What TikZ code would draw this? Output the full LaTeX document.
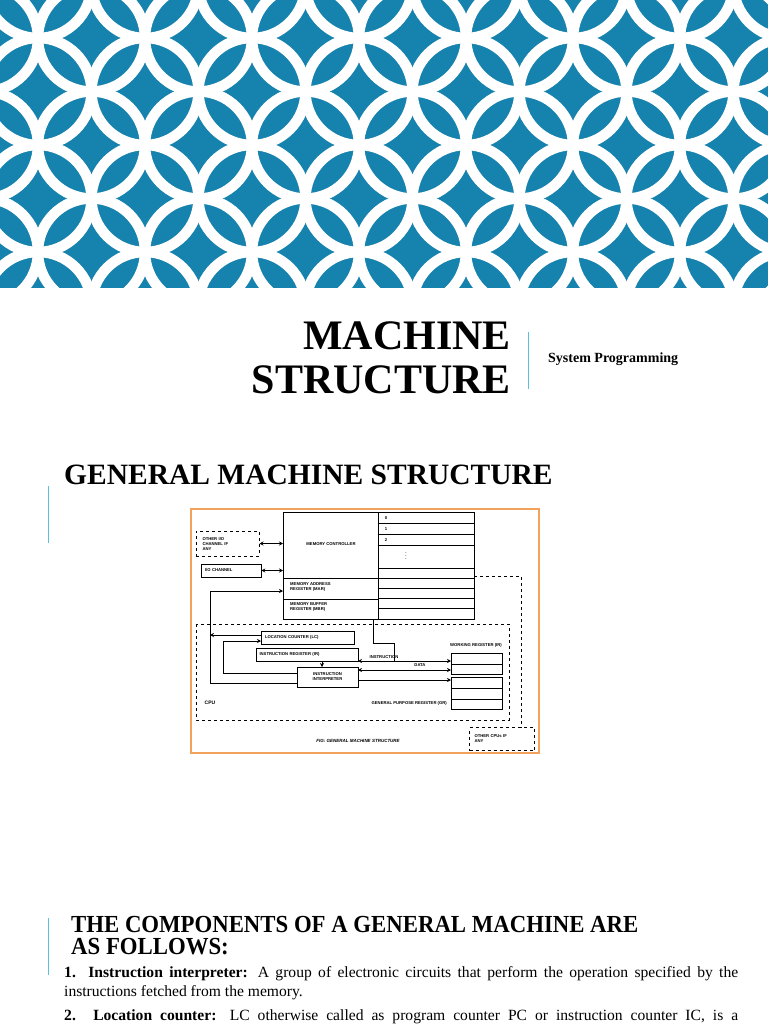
\documentclass[tikz,border=0pt]{standalone}
\usepackage{fontspec}
\setmainfont{Liberation Serif}
\newfontfamily\dsans{Liberation Sans}
\usetikzlibrary{arrows.meta}
\definecolor{pblue}{HTML}{1682AE}
\definecolor{lblue}{HTML}{5BC0DE}
\definecolor{orng}{HTML}{F2A25C}
\begin{document}
\begin{tikzpicture}[x=1pt,y=-1pt,
  dbox/.style={draw,line width=0.6pt},
  dashbox/.style={draw,dashed,line width=1pt},
  tl/.style={font=\dsans\bfseries\fontsize{4.2}{5}\selectfont,align=left,inner sep=0pt},
  conn/.style={line width=0.8pt},
  arr/.style={-{Stealth[length=4pt,width=4pt]}},
  darr/.style={{Stealth[length=4pt,width=4pt]}-{Stealth[length=4pt,width=4pt]}}]
\useasboundingbox (0,0) rectangle (768,1024);
\fill[white] (0,0) rectangle (768,1024);
% pattern
\begin{scope}
\clip (0,0) rectangle (768,288);
\fill[pblue] (0,0) rectangle (768,288);
\foreach \a in {-1,...,7}{\foreach \b in {-1,...,3}{
   \draw[white,line width=10.5pt] ({91.5+107*\a},{38+107*\b}) circle[radius=53.5];
   \draw[white,line width=10.5pt] ({38+107*\a},{91.5+107*\b}) circle[radius=53.5];
}}
\end{scope}
% titles
\node[anchor=east,font=\bfseries\fontsize{42}{44}\selectfont,align=right,inner sep=0pt] (title) at (511,358) {MACHINE\\STRUCTURE};
\draw[lblue,line width=0.8pt] (528,332) -- (528,389);
\node[anchor=west,font=\bfseries\fontsize{14}{16}\selectfont,inner sep=0pt] (sub) at (548,359) {System Programming};
\draw[lblue,line width=0.8pt] (48,486) -- (48,543);
\node[anchor=west,font=\bfseries\fontsize{29.5}{30}\selectfont,inner sep=0pt] (h2) at (64,475) {GENERAL MACHINE STRUCTURE};
% diagram frame
\draw[orng,line width=1.2pt,fill=white] (191,509) rectangle (539,753);
% memory
\draw[dbox] (283,512) rectangle (378,619);
\draw[dbox] (378,512) rectangle (474,619);
\foreach \y in {523,534,545,568,578,588,598,608}{\draw[line width=0.5pt] (378,\y) -- (474,\y);}
\draw[line width=0.5pt] (283,578) -- (378,578);
\draw[line width=0.5pt] (283,599) -- (378,599);
\node[tl] (mc) at (331,544) {MEMORY CONTROLLER};
\node[tl,anchor=west] (mar) at (290,587) {MEMORY ADDRESS\\REGISTER (MAR)};
\node[tl,anchor=west] (mbr) at (290,607) {MEMORY BUFFER\\REGISTER (MBR)};
\node[tl] (m0) at (386,518) {0};
\node[tl] (m1) at (386,529) {1};
\node[tl] (m2) at (386,540) {2};
\node[tl] (md) at (406,556) {.\\[-2pt].\\[-2pt].};
% IO
\node[dashbox,tl,minimum width=63pt,minimum height=25pt,text width=50pt] (oio) at (227.5,543.5) {OTHER I/O\\CHANNEL IF\\ANY};
\node[dbox,tl,minimum width=60pt,minimum height=13pt,text width=52pt] (io) at (231,570.5) {I/O CHANNEL};
\draw[conn,darr] (oio.east) -- (283,543.5);
\draw[conn,darr] (io.east) -- (283,570.5);
% CPU
\draw[dashbox] (196,624) rectangle (509,720);
\node[tl,font=\dsans\bfseries\fontsize{5}{6}\selectfont] (cpu) at (210,703) {CPU};
\node[dbox,tl,minimum width=93pt,minimum height=13pt,text width=85pt] (lc) at (307.5,637.5) {LOCATION COUNTER (LC)};
\node[dbox,tl,minimum width=102pt,minimum height=13pt,text width=95pt] (ir) at (307,654.5) {INSTRUCTION REGISTER (IR)};
\node[dbox,tl,align=center,minimum width=61pt,minimum height=20pt] (ii) at (327.5,677) {INSTRUCTION\\INTERPRETER};
\draw[dbox] (451,653) rectangle (502,674); \draw (451,664) -- (502,664);
\draw[dbox] (451,677) rectangle (502,709); \draw (451,688) -- (502,688); \draw (451,699) -- (502,699);
\coordinate (wr) at (451,661); \coordinate (dr) at (451,670); \coordinate (gr) at (451,680);
\node[tl,anchor=east] (wrl) at (502,645) {WORKING REGISTER (IR)};
\node[tl,anchor=east] (grl) at (447,703) {GENERAL PURPOSE REGISTER (GR)};
\node[tl] (insl) at (384,657) {INSTRUCTION};
\node[tl] (datl) at (420,665.5) {DATA};
\draw[conn,darr] (358,661) -- (wr);
\draw[conn,darr] (358,670) -- (dr);
\draw[conn,arr] (358,680) -- (gr);
\draw[conn] (373,619) -- (373,643) -- (394,643) -- (394,661);
\draw[conn,arr] (ir.south -| 322,661) -- (322,667);
\draw[conn,arr] (297,683) -- (210,683) -- (210,591) -- (283,591);
\draw[conn,arr] (297,673) -- (223,673) -- (223,641) -- (261,641);
\draw[conn,arr] (261,635) -- (210,635);
% other CPUs
\node[dashbox,tl,minimum width=65pt,minimum height=23pt,text width=55pt] (ocpu) at (502,739) {OTHER CPUs IF\\ANY};
\draw[dashed,line width=1pt] (474,576) -- (521,576) -- (521,727.5);
\node[tl,font=\dsans\bfseries\itshape\fontsize{4.5}{5}\selectfont] (cap) at (358,741) {FIG: GENERAL MACHINE STRUCTURE};
% bottom
\draw[lblue,line width=0.8pt] (48,918) -- (48,975);
\node[anchor=north west,font=\bfseries\fontsize{24.5}{22}\selectfont,align=left,inner sep=0pt,xscale=0.93] (h3) at (71,916) {THE COMPONENTS OF A GENERAL MACHINE ARE\\AS FOLLOWS:};
\begin{scope}
\clip (0,958) rectangle (768,1024);
\node[anchor=north west,inner sep=0pt,text width=674pt,align=justify,font=\fontsize{15.6}{19}\selectfont] (body) at (64,966) {\hyphenpenalty=10000 \textbf{1. Instruction interpreter:} A group of electronic circuits that perform the operation specified by the\linebreak instructions fetched from the memory.\par\vspace{5pt}
\textbf{2. Location counter:} LC otherwise called as program counter PC or instruction counter IC, is a\linebreak hardware memory device which denotes the location of the current instruction being executed.};
\end{scope}
\end{tikzpicture}
\end{document}
